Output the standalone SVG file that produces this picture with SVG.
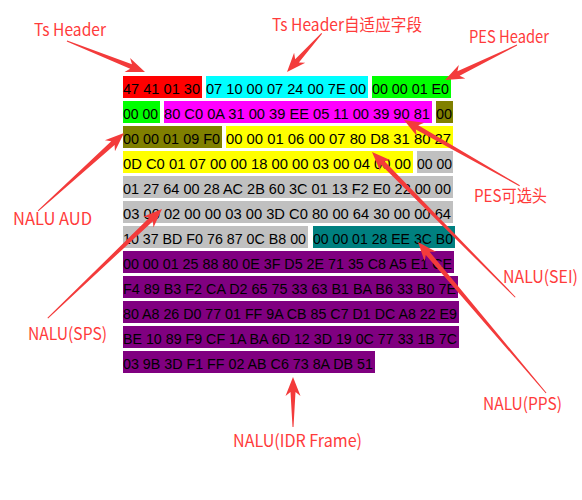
<svg xmlns="http://www.w3.org/2000/svg" width="582" height="500" viewBox="0 0 582 500">
<style>
.hx{font-family:"Liberation Sans",Arial,sans-serif;font-size:15px;fill:#000;}
.lb{font-family:"Noto Sans CJK SC","Liberation Sans",sans-serif;font-size:17px;fill:#ff3b3b;}
.ar{fill:#f33b3b;}
.red{fill:#ff0000}.cy{fill:#00ffff}.gr{fill:#00ff00}.mg{fill:#ff00ff}.ol{fill:#808000}.ye{fill:#ffff00}.gy{fill:#c0c0c0}.tl{fill:#008080}.pu{fill:#800080}
</style>
<rect width="582" height="500" fill="#fff"/>

<g id="ts-header">
<rect class="red" x="123" y="76" width="79" height="22"/>
<text class="hx" x="123" y="94" textLength="77" lengthAdjust="spacingAndGlyphs">47 41 01 30</text>
</g>
<g id="ts-adaptation">
<rect class="cy" x="206" y="76" width="162" height="22"/>
<text class="hx" x="206" y="94" textLength="160" lengthAdjust="spacingAndGlyphs">07 10 00 07 24 00 7E 00</text>
</g>
<g id="pes-header">
<rect class="gr" x="372" y="76" width="79" height="22"/>
<text class="hx" x="372" y="94" textLength="77" lengthAdjust="spacingAndGlyphs">00 00 01 E0</text>
<rect class="gr" x="123" y="101" width="37" height="22"/>
<text class="hx" x="123" y="119" textLength="35" lengthAdjust="spacingAndGlyphs">00 00</text>
</g>
<g id="pes-optional">
<rect class="mg" x="164" y="101" width="268" height="22"/>
<text class="hx" x="164" y="119" textLength="266" lengthAdjust="spacingAndGlyphs">80 C0 0A 31 00 39 EE 05 11 00 39 90 81</text>
</g>
<g id="nalu-aud">
<rect class="ol" x="436" y="101" width="17" height="22"/>
<text class="hx" x="436" y="119" textLength="16" lengthAdjust="spacingAndGlyphs">00</text>
<rect class="ol" x="123" y="126" width="99" height="22"/>
<text class="hx" x="123" y="144" textLength="97" lengthAdjust="spacingAndGlyphs">00 00 01 09 F0</text>
</g>
<g id="nalu-sei">
<rect class="ye" x="226" y="126" width="227" height="22"/>
<text class="hx" x="226" y="144" textLength="225" lengthAdjust="spacingAndGlyphs">00 00 01 06 00 07 80 D8 31 80 27</text>
<rect class="ye" x="123" y="151" width="290" height="22"/>
<text class="hx" x="123" y="169" textLength="288" lengthAdjust="spacingAndGlyphs">0D C0 01 07 00 00 18 00 00 03 00 04 00 00</text>
</g>
<g id="nalu-sps">
<rect class="gy" x="417" y="151" width="36" height="22"/>
<text class="hx" x="417" y="169" textLength="35" lengthAdjust="spacingAndGlyphs">00 00</text>
<rect class="gy" x="123" y="176" width="330" height="22"/>
<text class="hx" x="123" y="194" textLength="328" lengthAdjust="spacingAndGlyphs">01 27 64 00 28 AC 2B 60 3C 01 13 F2 E0 22 00 00</text>
<rect class="gy" x="123" y="201" width="330" height="22"/>
<text class="hx" x="123" y="219" textLength="328" lengthAdjust="spacingAndGlyphs">03 00 02 00 00 03 00 3D C0 80 00 64 30 00 00 64</text>
<rect class="gy" x="123" y="226" width="185" height="22"/>
<text class="hx" x="123" y="244" textLength="183" lengthAdjust="spacingAndGlyphs">10 37 BD F0 76 87 0C B8 00</text>
</g>
<g id="nalu-pps">
<rect class="tl" x="313" y="226" width="142" height="22"/>
<text class="hx" x="313" y="244" textLength="140" lengthAdjust="spacingAndGlyphs">00 00 01 28 EE 3C B0</text>
</g>
<g id="nalu-idr">
<rect class="pu" x="123" y="251" width="331" height="22"/>
<text class="hx" x="123" y="269" textLength="329" lengthAdjust="spacingAndGlyphs">00 00 01 25 88 80 0E 3F D5 2E 71 35 C8 A5 E1 CE</text>
<rect class="pu" x="123" y="276" width="335" height="22"/>
<text class="hx" x="123" y="294" textLength="333" lengthAdjust="spacingAndGlyphs">F4 89 B3 F2 CA D2 65 75 33 63 B1 BA B6 33 B0 7E</text>
<rect class="pu" x="123" y="301" width="336" height="22"/>
<text class="hx" x="123" y="319" textLength="334" lengthAdjust="spacingAndGlyphs">80 A8 26 D0 77 01 FF 9A CB 85 C7 D1 DC A8 22 E9</text>
<rect class="pu" x="123" y="326" width="336" height="22"/>
<text class="hx" x="123" y="344" textLength="334" lengthAdjust="spacingAndGlyphs">BE 10 89 F9 CF 1A BA 6D 12 3D 19 0C 77 33 1B 7C</text>
<rect class="pu" x="123" y="351" width="252" height="22"/>
<text class="hx" x="123" y="369" textLength="250" lengthAdjust="spacingAndGlyphs">03 9B 3D F1 FF 02 AB C6 73 8A DB 51</text>
</g>

<g id="labels">
<g id="lbl-ts-header"><text class="lb" x="34" y="36" textLength="72" lengthAdjust="spacingAndGlyphs">Ts Header</text></g>
<g id="lbl-ts-adaptation"><text class="lb" x="272" y="31" textLength="150" lengthAdjust="spacingAndGlyphs">Ts Header自适应字段</text></g>
<g id="lbl-pes-header"><text class="lb" x="469" y="43" textLength="80" lengthAdjust="spacingAndGlyphs">PES Header</text></g>
<g id="lbl-pes-optional"><text class="lb" x="474" y="202" textLength="73" lengthAdjust="spacingAndGlyphs">PES可选头</text></g>
<g id="lbl-aud"><text class="lb" x="13" y="225" textLength="79" lengthAdjust="spacingAndGlyphs">NALU AUD</text></g>
<g id="lbl-sei"><text class="lb" x="503" y="283" textLength="75" lengthAdjust="spacingAndGlyphs">NALU(SEI)</text></g>
<g id="lbl-sps"><text class="lb" x="28" y="340" textLength="79" lengthAdjust="spacingAndGlyphs">NALU(SPS)</text></g>
<g id="lbl-pps"><text class="lb" x="483" y="410" textLength="79" lengthAdjust="spacingAndGlyphs">NALU(PPS)</text></g>
<g id="lbl-idr"><text class="lb" x="233" y="447" textLength="129" lengthAdjust="spacingAndGlyphs">NALU(IDR Frame)</text></g>
</g>

<g id="connectors" class="ar">
<path transform="translate(145,72) rotate(21.7)" d="M0,0 L-19,-7.5 L-15,-2.5 L-84,-0.5 L-84,0.5 L-15,2.5 L-19,7.5 Z"/>
<path transform="translate(287,72) rotate(131.9)" d="M0,0 L-19,-7.5 L-15,-2.5 L-52,-0.5 L-52,0.5 L-15,2.5 L-19,7.5 Z"/>
<path transform="translate(445,80) rotate(154.1)" d="M0,0 L-19,-7.5 L-15,-2.5 L-80,-0.5 L-80,0.5 L-15,2.5 L-19,7.5 Z"/>
<path transform="translate(404,120) rotate(-150.4)" d="M0,0 L-19,-7.5 L-15,-2.5 L-133,-0.5 L-133,0.5 L-15,2.5 L-19,7.5 Z"/>
<path transform="translate(124,133) rotate(-42.2)" d="M0,0 L-19,-7.5 L-15,-2.5 L-116,-0.5 L-116,0.5 L-15,2.5 L-19,7.5 Z"/>
<path transform="translate(372,152) rotate(-134.6)" d="M0,0 L-19,-7.5 L-15,-2.5 L-204,-0.5 L-204,0.5 L-15,2.5 L-19,7.5 Z"/>
<path transform="translate(162,209) rotate(-43.7)" d="M0,0 L-19,-7.5 L-15,-2.5 L-158,-0.5 L-158,0.5 L-15,2.5 L-19,7.5 Z"/>
<path transform="translate(418,242) rotate(-130.3)" d="M0,0 L-19,-7.5 L-15,-2.5 L-198,-0.5 L-198,0.5 L-15,2.5 L-19,7.5 Z"/>
<path transform="translate(293,377) rotate(-90)" d="M0,0 L-19,-7.5 L-15,-2.5 L-50,-0.5 L-50,0.5 L-15,2.5 L-19,7.5 Z"/>
</g>
</svg>
